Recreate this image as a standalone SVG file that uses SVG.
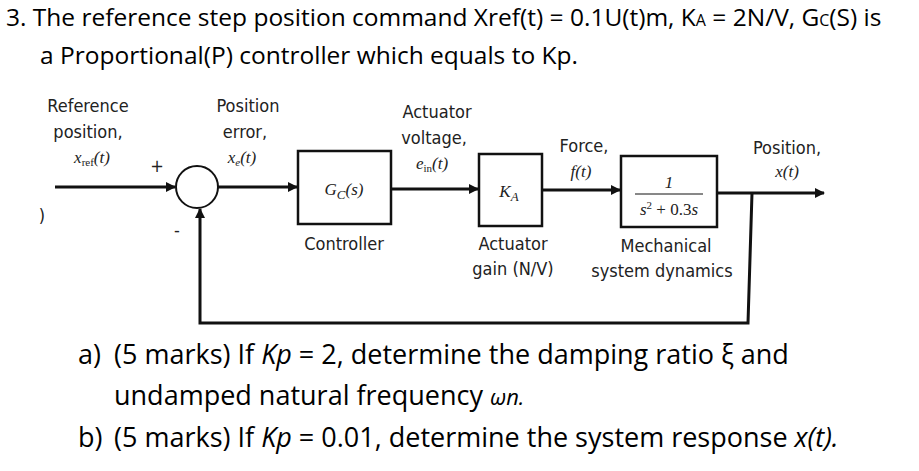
<svg xmlns="http://www.w3.org/2000/svg" width="919" height="471" viewBox="0 0 919 471">
<style>
.h{font-family:"Open Sans","Liberation Sans",sans-serif;font-size:24.5px;fill:#000}
.q{font-family:"Open Sans","Liberation Sans",sans-serif;font-size:27px;fill:#000}
.l{font-family:"DejaVu Sans Condensed","Liberation Sans",Arial,sans-serif;font-size:18px;fill:#222;text-anchor:middle}
.m{font-family:"Liberation Serif",serif;font-style:italic;font-size:17px;fill:#222;text-anchor:middle}
.b{fill:#fff;stroke:#111;stroke-width:2.5}
.c{fill:none;stroke:#111;stroke-width:3}
</style>
<defs><marker id="a" viewBox="0 0 10 10" refX="9" refY="5" markerWidth="16" markerHeight="10" markerUnits="userSpaceOnUse" orient="auto"><path d="M0,0L10,5L0,10z" fill="#111"/></marker></defs>
<rect width="919" height="471" fill="#fff"/>
<text class="h" x="6" y="26">3. The reference step position command Xref(t) = 0.1U(t)m, K<tspan font-size="16">A</tspan> = 2N/V, G<tspan font-size="16">C</tspan>(S) is</text>
<text class="h" x="40" y="64">a Proportional(P) controller which equals to Kp.</text>
<g id="labels">
<text class="l" x="88" y="112">Reference</text><text class="l" x="88" y="138">position,</text>
<text class="m" x="92" y="163">x<tspan font-size="11" dy="3" font-style="normal">ref</tspan><tspan dy="-3">(t)</tspan></text>
<text class="l" x="157" y="172">+</text><text class="l" x="177" y="236">-</text>
<text class="l" x="42" y="222">)</text>
<text class="l" x="248" y="112">Position</text><text class="l" x="245" y="138">error,</text>
<text class="m" x="242" y="163">x<tspan font-size="11" dy="3">e</tspan><tspan dy="-3">(t)</tspan></text>
<text class="l" x="437" y="118">Actuator</text><text class="l" x="434" y="144">voltage,</text>
<text class="m" x="432" y="169">e<tspan font-size="11" dy="3" font-style="normal">in</tspan><tspan dy="-3">(t)</tspan></text>
<text class="l" x="584" y="152">Force,</text><text class="m" x="581" y="177">f(t)</text>
<text class="l" x="787" y="154">Position,</text><text class="m" x="787" y="177">x(t)</text>
</g>
<g id="sum"><circle cx="197" cy="187" r="21" fill="#fff" stroke="#111" stroke-width="2"/></g>
<g id="gc"><rect class="b" x="298" y="151" width="93" height="73"/><text class="m" x="344" y="195" font-size="19">G<tspan font-size="13" dy="4">C</tspan><tspan dy="-4">(s)</tspan></text><text class="l" x="344" y="250">Controller</text></g>
<g id="ka"><rect class="b" x="479" y="154" width="63" height="72"/><text class="m" x="509" y="197" font-size="19">K<tspan font-size="13" dy="4">A</tspan></text><text class="l" x="513" y="250">Actuator</text><text class="l" x="513" y="275">gain (N/V)</text></g>
<g id="mech"><rect class="b" x="621" y="156" width="96" height="71"/><text class="m" x="669" y="188" font-style="normal">1</text><line x1="635" y1="194" x2="703" y2="194" stroke="#111" stroke-width="1"/><text class="m" x="669" y="215">s<tspan font-size="11" dy="-6" font-style="normal">2</tspan><tspan dy="6" font-style="normal"> + 0.3</tspan>s</text><text class="l" x="666" y="252">Mechanical</text><text class="l" x="662" y="277">system dynamics</text></g>
<g id="connectors">
<line class="c" x1="55" y1="187" x2="175" y2="187" marker-end="url(#a)"/>
<line class="c" x1="218" y1="187" x2="297" y2="187" marker-end="url(#a)"/>
<line class="c" x1="391" y1="189" x2="478" y2="189" marker-end="url(#a)"/>
<line class="c" x1="542" y1="190" x2="620" y2="190" marker-end="url(#a)"/>
<line class="c" x1="717" y1="193" x2="824" y2="193" marker-end="url(#a)"/>
<polyline class="c" points="752,193 748,323 200,323 200,209" marker-end="url(#a)"/>
</g>
<text class="q" x="78" y="364" font-size="19">a)</text>
<text class="q" x="114" y="364">(5 marks) If <tspan font-style="italic">Kp</tspan> = 2, determine the damping ratio ξ and</text>
<text class="q" x="114" y="405">undamped natural frequency <tspan font-style="italic" font-size="22">ωn.</tspan></text>
<text class="q" x="78" y="447" font-size="19">b)</text>
<text class="q" x="114" y="447">(5 marks) If <tspan font-style="italic">Kp</tspan> = 0.01, determine the system response <tspan font-style="italic">x(t).</tspan></text>
</svg>
